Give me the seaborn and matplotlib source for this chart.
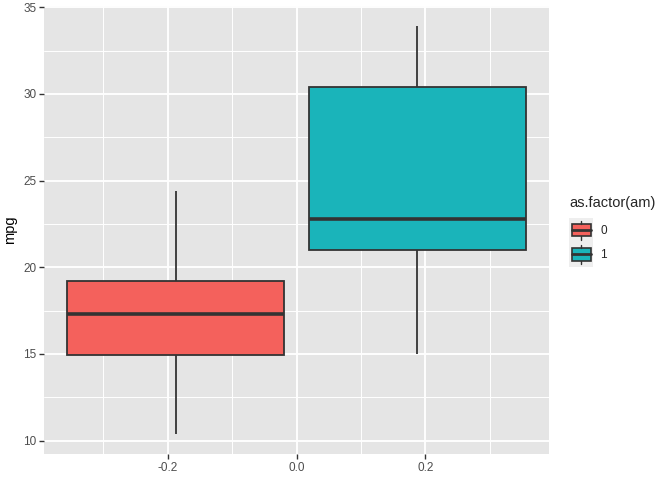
import pandas as pd
import seaborn as sns
import matplotlib.pyplot as plt
from matplotlib.legend_handler import HandlerBase
from matplotlib.patches import Rectangle, Patch
from matplotlib.lines import Line2D

# mtcars mpg split by transmission
mpg_am0 = [21.4, 18.7, 18.1, 14.3, 24.4, 22.8, 19.2, 17.8, 16.4, 17.3,
           15.2, 10.4, 10.4, 14.7, 21.5, 15.5, 15.2, 13.3, 19.2]
mpg_am1 = [21.0, 21.0, 22.8, 32.4, 30.4, 33.9, 27.3, 26.0, 30.4, 15.8,
           19.7, 15.0, 21.4]
am_levels = ["0", "1"]
fill_colors = ["#F4615C", "#1AB4BA"]

df = pd.DataFrame({
    "x": 0.0,
    "mpg": mpg_am0 + mpg_am1,
    "am": ["0"] * len(mpg_am0) + ["1"] * len(mpg_am1),
})

sns.set_style("white")
plt.rcParams['font.family'] = ['Liberation Sans', 'DejaVu Sans']

fig = plt.figure(figsize=(6.72, 4.8), dpi=100)
ax = fig.add_axes([44/672, 26/480, (549-44)/672, (454-6)/480])
ax.set_facecolor("#E5E5E5")

sns.boxplot(data=df, x="x", y="mpg", hue="am", hue_order=am_levels,
            palette=fill_colors, saturation=1, native_scale=True, dodge=True,
            width=0.75, gap=0.1, linecolor="#333333", linewidth=1.3,
            showcaps=False, whis=1.5, legend=False,
            medianprops=dict(linewidth=2.6, color="#333333"), ax=ax)

ax.set_xlim(-0.392, 0.392)
ax.set_ylim(9.225, 35.075)
ax.set_xticks([-0.2, 0.0, 0.2])
ax.set_xticklabels(["-0.2", "0.0", "0.2"])
ax.set_xticks([-0.3, -0.1, 0.1, 0.3], minor=True)
ax.set_yticks([10, 15, 20, 25, 30, 35])
ax.set_yticks([12.5, 17.5, 22.5, 27.5, 32.5], minor=True)
ax.grid(which="major", color="white", linewidth=1.35)
ax.grid(which="minor", color="white", linewidth=0.7)
ax.set_axisbelow(True)
for s in ax.spines.values():
    s.set_visible(False)
ax.tick_params(which="major", length=3.6, width=1.0, color="#333333",
               labelsize=8.5, labelcolor="#4D4D4D", pad=2,
               bottom=True, left=True)
ax.tick_params(which="minor", length=0)
ax.set_xlabel("")
ax.set_ylabel("mpg", fontsize=10.5, color="black", labelpad=4)


class BoxKey(HandlerBase):
    # small boxplot glyph on a grey key, like ggplot's legend
    def create_artists(self, legend, orig_handle, xdescent, ydescent,
                       width, height, fontsize, trans):
        w, h = width, height
        x0, y0 = -xdescent, -ydescent
        bg = Rectangle((x0, y0), w, h, facecolor="#EEEEEE",
                       edgecolor="none", transform=trans)
        bx = Rectangle((x0 + 0.11*w, y0 + 0.26*h), 0.78*w, 0.5*h,
                       facecolor=orig_handle.get_facecolor(),
                       edgecolor="#333333", linewidth=1.2, transform=trans)
        cx = x0 + w/2
        lines = [
            Line2D([cx, cx], [y0 + 0.1*h, y0 + 0.26*h], color="#333333", lw=1.0, transform=trans),
            Line2D([cx, cx], [y0 + 0.76*h, y0 + 0.9*h], color="#333333", lw=1.0, transform=trans),
            Line2D([x0 + 0.11*w, x0 + 0.89*w], [y0 + 0.51*h]*2, color="#333333", lw=2.0, transform=trans),
        ]
        return [bg, bx] + lines


handles = [Patch(facecolor=c, label=l) for c, l in zip(fill_colors, am_levels)]
leg = fig.legend(handles=handles, title="as.factor(am)", loc="center left",
                 bbox_to_anchor=(569/672, 0.518), frameon=False,
                 handler_map={Patch: BoxKey()}, handlelength=2.05,
                 handleheight=2.8, handletextpad=0.6, labelspacing=0.0,
                 fontsize=8.5, title_fontsize=10.5, borderpad=0,
                 borderaxespad=0)
leg._legend_box.align = "left"
leg._legend_box.sep = 6

fig.savefig("out.png", dpi=100)
